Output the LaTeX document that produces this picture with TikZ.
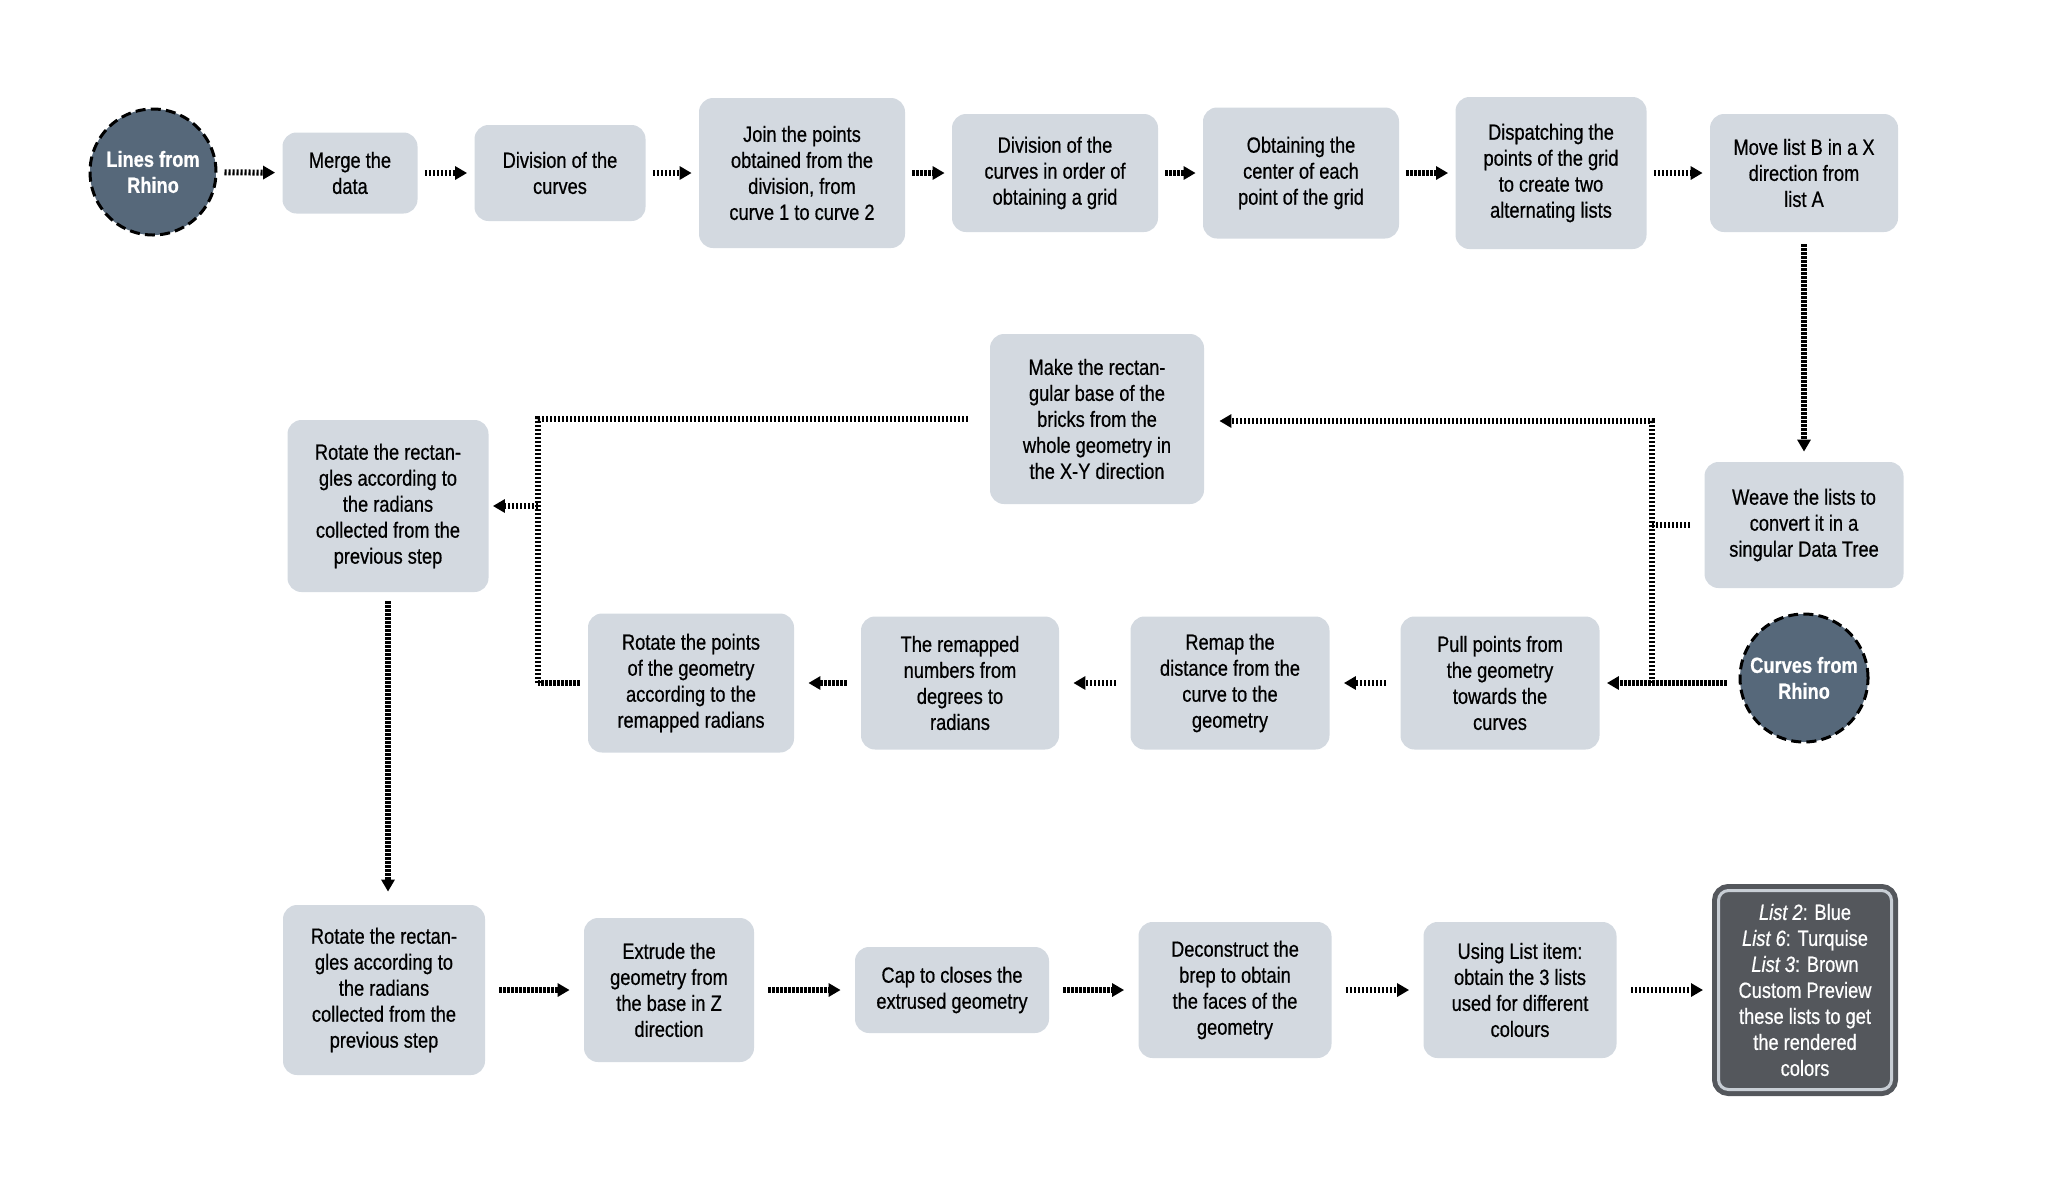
\documentclass[tikz,border=0pt]{standalone}
\usepackage{fontspec}
\setmainfont{Liberation Sans}[FakeStretch=0.83,FakeBold=0.6]
\usepackage{xcolor}
\usetikzlibrary{arrows.meta,positioning}
\definecolor{boxgrey}{HTML}{D3D9E0}
\definecolor{rhinoblue}{HTML}{56687A}
\definecolor{outdark}{HTML}{54575C}
\definecolor{outline}{HTML}{C8CED5}

\begin{document}
\begin{tikzpicture}[x=0.5pt,y=-0.5pt,font=\fontsize{11}{13}\selectfont,
  stepbox/.style={fill=boxgrey,rounded corners=7pt,align=center,inner sep=2pt},
  rhino/.style={circle,fill=rhinoblue,draw=black,line width=1.5pt,dash pattern=on 5pt off 2.6pt,
    text=white,font=\fontsize{11}{13}\selectfont\bfseries,align=center,minimum size=63pt,inner sep=0pt},
  outbox/.style={fill=outdark,draw=outline,line width=1.5pt,rounded corners=5pt,
    preaction={draw=outdark,line width=6.5pt},text=white,align=center,inner sep=2pt},
  bus/.style={line width=3pt,dash pattern=on 1.1pt off 0.9pt},
  flow/.style={bus,-{Triangle[length=6pt,width=6.5pt]},shorten <=3.5pt,shorten >=3.5pt},
  wide/.style={shorten <=7pt,shorten >=7pt}]
  \useasboundingbox (0,0) rectangle (2048,1195);

  % first row
  \node[rhino] (lines) at (153,172) {Lines from\\Rhino};
  \node[stepbox,minimum width=67.5pt,minimum height=40.5pt] (merge) at (350,173) {Merge the\\data};
  \node[stepbox,minimum width=85.5pt,minimum height=48pt] (divcurves) at (560,173) {Division of the\\curves};
  \node[stepbox,minimum width=103pt,minimum height=75pt] (join) at (802,173) {Join the points\\obtained from the\\division, from\\curve 1 to curve 2};
  \node[stepbox,minimum width=103pt,minimum height=59pt] (divgrid) at (1055,173) {Division of the\\curves in order of\\obtaining a grid};
  \node[stepbox,minimum width=98pt,minimum height=65.5pt] (center) at (1301,173) {Obtaining the\\center of each\\point of the grid};
  \node[stepbox,minimum width=95.5pt,minimum height=76pt] (dispatch) at (1551,173) {Dispatching the\\points of the grid\\to create two\\alternating lists};
  \node[stepbox,minimum width=94pt,minimum height=59pt] (movelist) at (1804,173) {Move list B in a X\\direction from\\list A};

  % second and third rows
  \node[stepbox,minimum width=99.5pt,minimum height=63pt] (weave) at (1804,525) {Weave the lists to\\convert it in a\\singular Data Tree};
  \node[rhino,minimum size=64pt] (curves) at (1804,678) {Curves from\\Rhino};
  \node[stepbox,minimum width=107pt,minimum height=85pt] (rectbase) at (1097,419) {Make the rectan-\\gular base of the\\bricks from the\\whole geometry in\\the X-Y direction};
  \node[stepbox,minimum width=100.5pt,minimum height=86pt] (rotrectA) at (388,506) {Rotate the rectan-\\gles according to\\the radians\\collected from the\\previous step};
  \node[stepbox,minimum width=103pt,minimum height=69.5pt] (rotpoints) at (691,683) {Rotate the points\\of the geometry\\according to the\\remapped radians};
  \node[stepbox,minimum width=99pt,minimum height=66.5pt] (radians) at (960,683) {The remapped\\numbers from\\degrees to\\radians};
  \node[stepbox,minimum width=99.5pt,minimum height=66.5pt] (remap) at (1230,683) {Remap the\\distance from the\\curve to the\\geometry};
  \node[stepbox,minimum width=99.5pt,minimum height=66.5pt] (pull) at (1500,683) {Pull points from\\the geometry\\towards the\\curves};

  % last row
  \node[stepbox,minimum width=101pt,minimum height=85pt] (rotrectB) at (384,990) {Rotate the rectan-\\gles according to\\the radians\\collected from the\\previous step};
  \node[stepbox,minimum width=85pt,minimum height=72pt] (extrude) at (669,990) {Extrude the\\geometry from\\the base in Z\\direction};
  \node[stepbox,minimum width=97pt,minimum height=43pt] (cap) at (952,990) {Cap to closes the\\extrused geometry};
  \node[stepbox,minimum width=96.5pt,minimum height=68pt] (deconstruct) at (1235,990) {Deconstruct the\\brep to obtain\\the faces of the\\geometry};
  \node[stepbox,minimum width=96.5pt,minimum height=68pt] (listitem) at (1520,990) {Using List item:\\obtain the 3 lists\\used for different\\colours};
  \node[outbox,minimum width=86.5pt,minimum height=99.5pt] (preview) at (1805,990) {\textit{List 2}: Blue\\\textit{List 6}: Turquise\\\textit{List 3}: Brown\\Custom Preview\\these lists to get\\the rendered\\colors};

  \coordinate (rtop) at (1652,421);
  \coordinate (ltop) at (538,419);

  \foreach \a/\b in {lines/merge,merge/divcurves,divcurves/join,join/divgrid,divgrid/center,center/dispatch,dispatch/movelist}
    \draw[flow] (\a) -- (\b);
  \draw[flow,shorten <=6pt,shorten >=5pt] (movelist) -- (weave);
  \draw[flow,shorten <=6pt] (curves.west |- pull.east) -- (pull.east);
  \draw[bus,shorten <=7pt] (weave.west) -- (weave.west -| rtop);
  \draw[flow,shorten <=0pt,shorten >=7.5pt] (pull.east -| rtop) -- (rtop) -- (rectbase.east |- rtop);
  \foreach \a/\b in {pull/remap,remap/radians,radians/rotpoints}
    \draw[flow,wide] (\a) -- (\b);
  \draw[bus,shorten <=4pt] (rotpoints.west) -- (rotpoints.west -| ltop);
  \draw[bus,shorten >=10pt] (rotpoints.west -| ltop) -- (ltop) -- (rectbase.west |- ltop);
  \draw[flow,shorten <=0pt,shorten >=2pt] (rotrectA.east -| ltop) -- (rotrectA.east);
  \draw[flow,shorten <=4.5pt,shorten >=6.5pt] (rotrectA.south) -- (rotrectA.south |- rotrectB.north);
  \foreach \a/\b in {rotrectB/extrude,extrude/cap,cap/deconstruct,deconstruct/listitem,listitem/preview}
    \draw[flow,wide] (\a) -- (\b);
\end{tikzpicture}
\end{document}
